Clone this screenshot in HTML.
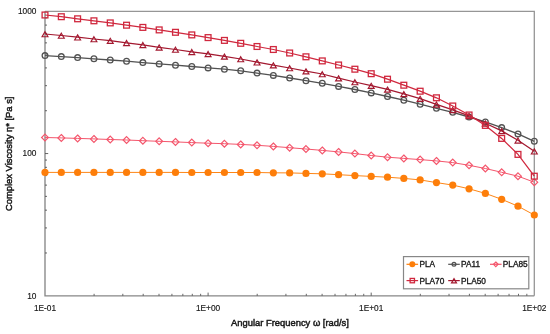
<!DOCTYPE html>
<html><head><meta charset="utf-8"><style>
html,body{margin:0;padding:0;background:#fff;}
body{width:550px;height:334px;overflow:hidden;}
svg{display:block;filter:blur(0.28px);}
text{font-family:"Liberation Sans",Arial,sans-serif;fill:#161616;stroke:#161616;stroke-width:0.32px;}
.tk{font-size:8.3px;stroke-width:0.15px;}
.lg{font-size:8.3px;}
.tt{font-size:9.4px;stroke-width:0.46px;}
</style></head><body>
<svg width="550" height="334" viewBox="0 0 550 334">
<rect width="550" height="334" fill="#fff"/>
<path d="M45.00 11.30H534.30V295.80" fill="none" stroke="#969696" stroke-width="1.3"/>
<path d="M45.00 11.30V295.80H534.30" fill="none" stroke="#878787" stroke-width="1.35"/>
<path d="M45.00 252.98h2.00 M45.00 227.93h2.00 M45.00 210.16h2.00 M45.00 196.37h2.00 M45.00 185.11h2.00 M45.00 175.58h2.00 M45.00 167.34h2.00 M45.00 160.06h2.00 M45.00 153.55h3.20 M45.00 110.73h2.00 M45.00 85.68h2.00 M45.00 67.91h2.00 M45.00 54.12h2.00 M45.00 42.86h2.00 M45.00 33.33h2.00 M45.00 25.09h2.00 M45.00 17.81h2.00 M94.10 295.80v-2.00 M122.82 295.80v-2.00 M143.20 295.80v-2.00 M159.00 295.80v-2.00 M171.92 295.80v-2.00 M182.84 295.80v-2.00 M192.29 295.80v-2.00 M200.64 295.80v-2.00 M208.10 295.80v-3.20 M257.20 295.80v-2.00 M285.92 295.80v-2.00 M306.30 295.80v-2.00 M322.10 295.80v-2.00 M335.02 295.80v-2.00 M345.94 295.80v-2.00 M355.39 295.80v-2.00 M363.74 295.80v-2.00 M371.20 295.80v-3.20 M420.30 295.80v-2.00 M449.02 295.80v-2.00 M469.40 295.80v-2.00 M485.20 295.80v-2.00 M498.12 295.80v-2.00 M509.04 295.80v-2.00 M518.49 295.80v-2.00 M526.84 295.80v-2.00" stroke="#555" stroke-width="0.9" fill="none"/>
<polyline points="45.00,55.60 61.31,56.60 77.62,57.60 93.93,58.80 110.24,60.00 126.55,61.20 142.86,62.60 159.17,63.90 175.48,65.20 191.79,66.50 208.10,67.90 224.41,69.20 240.72,70.80 257.03,73.10 273.34,75.40 289.65,78.00 305.96,80.70 322.27,83.30 338.58,86.40 354.89,89.50 371.20,92.90 387.51,96.50 403.82,100.20 420.13,104.20 436.44,108.30 452.75,112.30 469.06,117.00 485.37,121.90 501.68,127.60 517.99,133.90 534.30,141.30" fill="none" stroke="#525252" stroke-width="1.35"/>
<circle cx="45.00" cy="55.60" r="2.85" fill="none" stroke="#525252" stroke-width="1.3"/>
<circle cx="61.31" cy="56.60" r="2.85" fill="none" stroke="#525252" stroke-width="1.3"/>
<circle cx="77.62" cy="57.60" r="2.85" fill="none" stroke="#525252" stroke-width="1.3"/>
<circle cx="93.93" cy="58.80" r="2.85" fill="none" stroke="#525252" stroke-width="1.3"/>
<circle cx="110.24" cy="60.00" r="2.85" fill="none" stroke="#525252" stroke-width="1.3"/>
<circle cx="126.55" cy="61.20" r="2.85" fill="none" stroke="#525252" stroke-width="1.3"/>
<circle cx="142.86" cy="62.60" r="2.85" fill="none" stroke="#525252" stroke-width="1.3"/>
<circle cx="159.17" cy="63.90" r="2.85" fill="none" stroke="#525252" stroke-width="1.3"/>
<circle cx="175.48" cy="65.20" r="2.85" fill="none" stroke="#525252" stroke-width="1.3"/>
<circle cx="191.79" cy="66.50" r="2.85" fill="none" stroke="#525252" stroke-width="1.3"/>
<circle cx="208.10" cy="67.90" r="2.85" fill="none" stroke="#525252" stroke-width="1.3"/>
<circle cx="224.41" cy="69.20" r="2.85" fill="none" stroke="#525252" stroke-width="1.3"/>
<circle cx="240.72" cy="70.80" r="2.85" fill="none" stroke="#525252" stroke-width="1.3"/>
<circle cx="257.03" cy="73.10" r="2.85" fill="none" stroke="#525252" stroke-width="1.3"/>
<circle cx="273.34" cy="75.40" r="2.85" fill="none" stroke="#525252" stroke-width="1.3"/>
<circle cx="289.65" cy="78.00" r="2.85" fill="none" stroke="#525252" stroke-width="1.3"/>
<circle cx="305.96" cy="80.70" r="2.85" fill="none" stroke="#525252" stroke-width="1.3"/>
<circle cx="322.27" cy="83.30" r="2.85" fill="none" stroke="#525252" stroke-width="1.3"/>
<circle cx="338.58" cy="86.40" r="2.85" fill="none" stroke="#525252" stroke-width="1.3"/>
<circle cx="354.89" cy="89.50" r="2.85" fill="none" stroke="#525252" stroke-width="1.3"/>
<circle cx="371.20" cy="92.90" r="2.85" fill="none" stroke="#525252" stroke-width="1.3"/>
<circle cx="387.51" cy="96.50" r="2.85" fill="none" stroke="#525252" stroke-width="1.3"/>
<circle cx="403.82" cy="100.20" r="2.85" fill="none" stroke="#525252" stroke-width="1.3"/>
<circle cx="420.13" cy="104.20" r="2.85" fill="none" stroke="#525252" stroke-width="1.3"/>
<circle cx="436.44" cy="108.30" r="2.85" fill="none" stroke="#525252" stroke-width="1.3"/>
<circle cx="452.75" cy="112.30" r="2.85" fill="none" stroke="#525252" stroke-width="1.3"/>
<circle cx="469.06" cy="117.00" r="2.85" fill="none" stroke="#525252" stroke-width="1.3"/>
<circle cx="485.37" cy="121.90" r="2.85" fill="none" stroke="#525252" stroke-width="1.3"/>
<circle cx="501.68" cy="127.60" r="2.85" fill="none" stroke="#525252" stroke-width="1.3"/>
<circle cx="517.99" cy="133.90" r="2.85" fill="none" stroke="#525252" stroke-width="1.3"/>
<circle cx="534.30" cy="141.30" r="2.85" fill="none" stroke="#525252" stroke-width="1.3"/>
<polyline points="45.00,137.50 61.31,137.90 77.62,138.40 93.93,138.90 110.24,139.50 126.55,140.00 142.86,140.70 159.17,141.30 175.48,141.90 191.79,142.60 208.10,143.20 224.41,143.70 240.72,144.40 257.03,145.30 273.34,146.40 289.65,147.70 305.96,149.00 322.27,150.40 338.58,151.90 354.89,153.60 371.20,155.50 387.51,157.20 403.82,158.40 420.13,159.60 436.44,160.90 452.75,162.60 469.06,165.30 485.37,168.50 501.68,172.30 517.99,176.20 534.30,182.20" fill="none" stroke="#f4566c" stroke-width="1.00"/>
<polygon points="45.00,134.10 48.40,137.50 45.00,140.90 41.60,137.50" fill="none" stroke="#f4566c" stroke-width="1.2"/>
<polygon points="61.31,134.50 64.71,137.90 61.31,141.30 57.91,137.90" fill="none" stroke="#f4566c" stroke-width="1.2"/>
<polygon points="77.62,135.00 81.02,138.40 77.62,141.80 74.22,138.40" fill="none" stroke="#f4566c" stroke-width="1.2"/>
<polygon points="93.93,135.50 97.33,138.90 93.93,142.30 90.53,138.90" fill="none" stroke="#f4566c" stroke-width="1.2"/>
<polygon points="110.24,136.10 113.64,139.50 110.24,142.90 106.84,139.50" fill="none" stroke="#f4566c" stroke-width="1.2"/>
<polygon points="126.55,136.60 129.95,140.00 126.55,143.40 123.15,140.00" fill="none" stroke="#f4566c" stroke-width="1.2"/>
<polygon points="142.86,137.30 146.26,140.70 142.86,144.10 139.46,140.70" fill="none" stroke="#f4566c" stroke-width="1.2"/>
<polygon points="159.17,137.90 162.57,141.30 159.17,144.70 155.77,141.30" fill="none" stroke="#f4566c" stroke-width="1.2"/>
<polygon points="175.48,138.50 178.88,141.90 175.48,145.30 172.08,141.90" fill="none" stroke="#f4566c" stroke-width="1.2"/>
<polygon points="191.79,139.20 195.19,142.60 191.79,146.00 188.39,142.60" fill="none" stroke="#f4566c" stroke-width="1.2"/>
<polygon points="208.10,139.80 211.50,143.20 208.10,146.60 204.70,143.20" fill="none" stroke="#f4566c" stroke-width="1.2"/>
<polygon points="224.41,140.30 227.81,143.70 224.41,147.10 221.01,143.70" fill="none" stroke="#f4566c" stroke-width="1.2"/>
<polygon points="240.72,141.00 244.12,144.40 240.72,147.80 237.32,144.40" fill="none" stroke="#f4566c" stroke-width="1.2"/>
<polygon points="257.03,141.90 260.43,145.30 257.03,148.70 253.63,145.30" fill="none" stroke="#f4566c" stroke-width="1.2"/>
<polygon points="273.34,143.00 276.74,146.40 273.34,149.80 269.94,146.40" fill="none" stroke="#f4566c" stroke-width="1.2"/>
<polygon points="289.65,144.30 293.05,147.70 289.65,151.10 286.25,147.70" fill="none" stroke="#f4566c" stroke-width="1.2"/>
<polygon points="305.96,145.60 309.36,149.00 305.96,152.40 302.56,149.00" fill="none" stroke="#f4566c" stroke-width="1.2"/>
<polygon points="322.27,147.00 325.67,150.40 322.27,153.80 318.87,150.40" fill="none" stroke="#f4566c" stroke-width="1.2"/>
<polygon points="338.58,148.50 341.98,151.90 338.58,155.30 335.18,151.90" fill="none" stroke="#f4566c" stroke-width="1.2"/>
<polygon points="354.89,150.20 358.29,153.60 354.89,157.00 351.49,153.60" fill="none" stroke="#f4566c" stroke-width="1.2"/>
<polygon points="371.20,152.10 374.60,155.50 371.20,158.90 367.80,155.50" fill="none" stroke="#f4566c" stroke-width="1.2"/>
<polygon points="387.51,153.80 390.91,157.20 387.51,160.60 384.11,157.20" fill="none" stroke="#f4566c" stroke-width="1.2"/>
<polygon points="403.82,155.00 407.22,158.40 403.82,161.80 400.42,158.40" fill="none" stroke="#f4566c" stroke-width="1.2"/>
<polygon points="420.13,156.20 423.53,159.60 420.13,163.00 416.73,159.60" fill="none" stroke="#f4566c" stroke-width="1.2"/>
<polygon points="436.44,157.50 439.84,160.90 436.44,164.30 433.04,160.90" fill="none" stroke="#f4566c" stroke-width="1.2"/>
<polygon points="452.75,159.20 456.15,162.60 452.75,166.00 449.35,162.60" fill="none" stroke="#f4566c" stroke-width="1.2"/>
<polygon points="469.06,161.90 472.46,165.30 469.06,168.70 465.66,165.30" fill="none" stroke="#f4566c" stroke-width="1.2"/>
<polygon points="485.37,165.10 488.77,168.50 485.37,171.90 481.97,168.50" fill="none" stroke="#f4566c" stroke-width="1.2"/>
<polygon points="501.68,168.90 505.08,172.30 501.68,175.70 498.28,172.30" fill="none" stroke="#f4566c" stroke-width="1.2"/>
<polygon points="517.99,172.80 521.39,176.20 517.99,179.60 514.59,176.20" fill="none" stroke="#f4566c" stroke-width="1.2"/>
<polygon points="534.30,178.80 537.70,182.20 534.30,185.60 530.90,182.20" fill="none" stroke="#f4566c" stroke-width="1.2"/>
<polyline points="45.00,172.40 61.31,172.40 77.62,172.40 93.93,172.40 110.24,172.40 126.55,172.40 142.86,172.40 159.17,172.40 175.48,172.40 191.79,172.50 208.10,172.50 224.41,172.50 240.72,172.50 257.03,172.50 273.34,172.80 289.65,172.90 305.96,173.40 322.27,173.80 338.58,174.70 354.89,175.60 371.20,176.40 387.51,177.20 403.82,178.40 420.13,179.90 436.44,182.60 452.75,185.10 469.06,188.80 485.37,193.40 501.68,199.30 517.99,206.20 534.30,215.00" fill="none" stroke="#fd7e0a" stroke-width="0.95"/>
<circle cx="45.00" cy="172.40" r="3.60" fill="#fd7e0a"/>
<circle cx="61.31" cy="172.40" r="3.60" fill="#fd7e0a"/>
<circle cx="77.62" cy="172.40" r="3.60" fill="#fd7e0a"/>
<circle cx="93.93" cy="172.40" r="3.60" fill="#fd7e0a"/>
<circle cx="110.24" cy="172.40" r="3.60" fill="#fd7e0a"/>
<circle cx="126.55" cy="172.40" r="3.60" fill="#fd7e0a"/>
<circle cx="142.86" cy="172.40" r="3.60" fill="#fd7e0a"/>
<circle cx="159.17" cy="172.40" r="3.60" fill="#fd7e0a"/>
<circle cx="175.48" cy="172.40" r="3.60" fill="#fd7e0a"/>
<circle cx="191.79" cy="172.50" r="3.60" fill="#fd7e0a"/>
<circle cx="208.10" cy="172.50" r="3.60" fill="#fd7e0a"/>
<circle cx="224.41" cy="172.50" r="3.60" fill="#fd7e0a"/>
<circle cx="240.72" cy="172.50" r="3.60" fill="#fd7e0a"/>
<circle cx="257.03" cy="172.50" r="3.60" fill="#fd7e0a"/>
<circle cx="273.34" cy="172.80" r="3.60" fill="#fd7e0a"/>
<circle cx="289.65" cy="172.90" r="3.60" fill="#fd7e0a"/>
<circle cx="305.96" cy="173.40" r="3.60" fill="#fd7e0a"/>
<circle cx="322.27" cy="173.80" r="3.60" fill="#fd7e0a"/>
<circle cx="338.58" cy="174.70" r="3.60" fill="#fd7e0a"/>
<circle cx="354.89" cy="175.60" r="3.60" fill="#fd7e0a"/>
<circle cx="371.20" cy="176.40" r="3.60" fill="#fd7e0a"/>
<circle cx="387.51" cy="177.20" r="3.60" fill="#fd7e0a"/>
<circle cx="403.82" cy="178.40" r="3.60" fill="#fd7e0a"/>
<circle cx="420.13" cy="179.90" r="3.60" fill="#fd7e0a"/>
<circle cx="436.44" cy="182.60" r="3.60" fill="#fd7e0a"/>
<circle cx="452.75" cy="185.10" r="3.60" fill="#fd7e0a"/>
<circle cx="469.06" cy="188.80" r="3.60" fill="#fd7e0a"/>
<circle cx="485.37" cy="193.40" r="3.60" fill="#fd7e0a"/>
<circle cx="501.68" cy="199.30" r="3.60" fill="#fd7e0a"/>
<circle cx="517.99" cy="206.20" r="3.60" fill="#fd7e0a"/>
<circle cx="534.30" cy="215.00" r="3.60" fill="#fd7e0a"/>
<polyline points="45.00,34.00 61.31,35.50 77.62,37.20 93.93,39.00 110.24,40.60 126.55,42.80 142.86,44.80 159.17,47.30 175.48,49.50 191.79,51.80 208.10,53.80 224.41,56.40 240.72,59.00 257.03,62.20 273.34,65.10 289.65,68.00 305.96,71.10 322.27,74.00 338.58,78.10 354.89,82.00 371.20,85.60 387.51,89.40 403.82,93.90 420.13,98.60 436.44,104.30 452.75,109.80 469.06,115.80 485.37,123.30 501.68,130.90 517.99,140.30 534.30,151.20" fill="none" stroke="#a3182f" stroke-width="1.25"/>
<polygon points="45.00,31.70 47.95,36.75 42.05,36.75" fill="none" stroke="#a3182f" stroke-width="1.15" stroke-linejoin="miter"/>
<polygon points="61.31,33.20 64.26,38.25 58.36,38.25" fill="none" stroke="#a3182f" stroke-width="1.15" stroke-linejoin="miter"/>
<polygon points="77.62,34.90 80.57,39.95 74.67,39.95" fill="none" stroke="#a3182f" stroke-width="1.15" stroke-linejoin="miter"/>
<polygon points="93.93,36.70 96.88,41.75 90.98,41.75" fill="none" stroke="#a3182f" stroke-width="1.15" stroke-linejoin="miter"/>
<polygon points="110.24,38.30 113.19,43.35 107.29,43.35" fill="none" stroke="#a3182f" stroke-width="1.15" stroke-linejoin="miter"/>
<polygon points="126.55,40.50 129.50,45.55 123.60,45.55" fill="none" stroke="#a3182f" stroke-width="1.15" stroke-linejoin="miter"/>
<polygon points="142.86,42.50 145.81,47.55 139.91,47.55" fill="none" stroke="#a3182f" stroke-width="1.15" stroke-linejoin="miter"/>
<polygon points="159.17,45.00 162.12,50.05 156.22,50.05" fill="none" stroke="#a3182f" stroke-width="1.15" stroke-linejoin="miter"/>
<polygon points="175.48,47.20 178.43,52.25 172.53,52.25" fill="none" stroke="#a3182f" stroke-width="1.15" stroke-linejoin="miter"/>
<polygon points="191.79,49.50 194.74,54.55 188.84,54.55" fill="none" stroke="#a3182f" stroke-width="1.15" stroke-linejoin="miter"/>
<polygon points="208.10,51.50 211.05,56.55 205.15,56.55" fill="none" stroke="#a3182f" stroke-width="1.15" stroke-linejoin="miter"/>
<polygon points="224.41,54.10 227.36,59.15 221.46,59.15" fill="none" stroke="#a3182f" stroke-width="1.15" stroke-linejoin="miter"/>
<polygon points="240.72,56.70 243.67,61.75 237.77,61.75" fill="none" stroke="#a3182f" stroke-width="1.15" stroke-linejoin="miter"/>
<polygon points="257.03,59.90 259.98,64.95 254.08,64.95" fill="none" stroke="#a3182f" stroke-width="1.15" stroke-linejoin="miter"/>
<polygon points="273.34,62.80 276.29,67.85 270.39,67.85" fill="none" stroke="#a3182f" stroke-width="1.15" stroke-linejoin="miter"/>
<polygon points="289.65,65.70 292.60,70.75 286.70,70.75" fill="none" stroke="#a3182f" stroke-width="1.15" stroke-linejoin="miter"/>
<polygon points="305.96,68.80 308.91,73.85 303.01,73.85" fill="none" stroke="#a3182f" stroke-width="1.15" stroke-linejoin="miter"/>
<polygon points="322.27,71.70 325.22,76.75 319.32,76.75" fill="none" stroke="#a3182f" stroke-width="1.15" stroke-linejoin="miter"/>
<polygon points="338.58,75.80 341.53,80.85 335.63,80.85" fill="none" stroke="#a3182f" stroke-width="1.15" stroke-linejoin="miter"/>
<polygon points="354.89,79.70 357.84,84.75 351.94,84.75" fill="none" stroke="#a3182f" stroke-width="1.15" stroke-linejoin="miter"/>
<polygon points="371.20,83.30 374.15,88.35 368.25,88.35" fill="none" stroke="#a3182f" stroke-width="1.15" stroke-linejoin="miter"/>
<polygon points="387.51,87.10 390.46,92.15 384.56,92.15" fill="none" stroke="#a3182f" stroke-width="1.15" stroke-linejoin="miter"/>
<polygon points="403.82,91.60 406.77,96.65 400.87,96.65" fill="none" stroke="#a3182f" stroke-width="1.15" stroke-linejoin="miter"/>
<polygon points="420.13,96.30 423.08,101.35 417.18,101.35" fill="none" stroke="#a3182f" stroke-width="1.15" stroke-linejoin="miter"/>
<polygon points="436.44,102.00 439.39,107.05 433.49,107.05" fill="none" stroke="#a3182f" stroke-width="1.15" stroke-linejoin="miter"/>
<polygon points="452.75,107.50 455.70,112.55 449.80,112.55" fill="none" stroke="#a3182f" stroke-width="1.15" stroke-linejoin="miter"/>
<polygon points="469.06,113.50 472.01,118.55 466.11,118.55" fill="none" stroke="#a3182f" stroke-width="1.15" stroke-linejoin="miter"/>
<polygon points="485.37,121.00 488.32,126.05 482.42,126.05" fill="none" stroke="#a3182f" stroke-width="1.15" stroke-linejoin="miter"/>
<polygon points="501.68,128.60 504.63,133.65 498.73,133.65" fill="none" stroke="#a3182f" stroke-width="1.15" stroke-linejoin="miter"/>
<polygon points="517.99,138.00 520.94,143.05 515.04,143.05" fill="none" stroke="#a3182f" stroke-width="1.15" stroke-linejoin="miter"/>
<polygon points="534.30,148.90 537.25,153.95 531.35,153.95" fill="none" stroke="#a3182f" stroke-width="1.15" stroke-linejoin="miter"/>
<polyline points="45.00,15.00 61.31,16.70 77.62,18.80 93.93,20.80 110.24,22.90 126.55,25.20 142.86,27.40 159.17,29.90 175.48,32.30 191.79,34.90 208.10,37.60 224.41,40.40 240.72,43.30 257.03,46.50 273.34,49.50 289.65,53.00 305.96,56.80 322.27,60.90 338.58,65.00 354.89,69.20 371.20,73.70 387.51,79.20 403.82,85.20 420.13,91.20 436.44,97.80 452.75,106.00 469.06,115.00 485.37,125.40 501.68,138.40 517.99,154.40 534.30,176.20" fill="none" stroke="#d0283e" stroke-width="1.25"/>
<rect x="42.10" y="12.10" width="5.80" height="5.80" fill="none" stroke="#d0283e" stroke-width="1.3"/>
<rect x="58.41" y="13.80" width="5.80" height="5.80" fill="none" stroke="#d0283e" stroke-width="1.3"/>
<rect x="74.72" y="15.90" width="5.80" height="5.80" fill="none" stroke="#d0283e" stroke-width="1.3"/>
<rect x="91.03" y="17.90" width="5.80" height="5.80" fill="none" stroke="#d0283e" stroke-width="1.3"/>
<rect x="107.34" y="20.00" width="5.80" height="5.80" fill="none" stroke="#d0283e" stroke-width="1.3"/>
<rect x="123.65" y="22.30" width="5.80" height="5.80" fill="none" stroke="#d0283e" stroke-width="1.3"/>
<rect x="139.96" y="24.50" width="5.80" height="5.80" fill="none" stroke="#d0283e" stroke-width="1.3"/>
<rect x="156.27" y="27.00" width="5.80" height="5.80" fill="none" stroke="#d0283e" stroke-width="1.3"/>
<rect x="172.58" y="29.40" width="5.80" height="5.80" fill="none" stroke="#d0283e" stroke-width="1.3"/>
<rect x="188.89" y="32.00" width="5.80" height="5.80" fill="none" stroke="#d0283e" stroke-width="1.3"/>
<rect x="205.20" y="34.70" width="5.80" height="5.80" fill="none" stroke="#d0283e" stroke-width="1.3"/>
<rect x="221.51" y="37.50" width="5.80" height="5.80" fill="none" stroke="#d0283e" stroke-width="1.3"/>
<rect x="237.82" y="40.40" width="5.80" height="5.80" fill="none" stroke="#d0283e" stroke-width="1.3"/>
<rect x="254.13" y="43.60" width="5.80" height="5.80" fill="none" stroke="#d0283e" stroke-width="1.3"/>
<rect x="270.44" y="46.60" width="5.80" height="5.80" fill="none" stroke="#d0283e" stroke-width="1.3"/>
<rect x="286.75" y="50.10" width="5.80" height="5.80" fill="none" stroke="#d0283e" stroke-width="1.3"/>
<rect x="303.06" y="53.90" width="5.80" height="5.80" fill="none" stroke="#d0283e" stroke-width="1.3"/>
<rect x="319.37" y="58.00" width="5.80" height="5.80" fill="none" stroke="#d0283e" stroke-width="1.3"/>
<rect x="335.68" y="62.10" width="5.80" height="5.80" fill="none" stroke="#d0283e" stroke-width="1.3"/>
<rect x="351.99" y="66.30" width="5.80" height="5.80" fill="none" stroke="#d0283e" stroke-width="1.3"/>
<rect x="368.30" y="70.80" width="5.80" height="5.80" fill="none" stroke="#d0283e" stroke-width="1.3"/>
<rect x="384.61" y="76.30" width="5.80" height="5.80" fill="none" stroke="#d0283e" stroke-width="1.3"/>
<rect x="400.92" y="82.30" width="5.80" height="5.80" fill="none" stroke="#d0283e" stroke-width="1.3"/>
<rect x="417.23" y="88.30" width="5.80" height="5.80" fill="none" stroke="#d0283e" stroke-width="1.3"/>
<rect x="433.54" y="94.90" width="5.80" height="5.80" fill="none" stroke="#d0283e" stroke-width="1.3"/>
<rect x="449.85" y="103.10" width="5.80" height="5.80" fill="none" stroke="#d0283e" stroke-width="1.3"/>
<rect x="466.16" y="112.10" width="5.80" height="5.80" fill="none" stroke="#d0283e" stroke-width="1.3"/>
<rect x="482.47" y="122.50" width="5.80" height="5.80" fill="none" stroke="#d0283e" stroke-width="1.3"/>
<rect x="498.78" y="135.50" width="5.80" height="5.80" fill="none" stroke="#d0283e" stroke-width="1.3"/>
<rect x="515.09" y="151.50" width="5.80" height="5.80" fill="none" stroke="#d0283e" stroke-width="1.3"/>
<rect x="531.40" y="173.30" width="5.80" height="5.80" fill="none" stroke="#d0283e" stroke-width="1.3"/>
<rect x="403.5" y="256.6" width="125.3" height="32.2" fill="#fff" stroke="#878787" stroke-width="1.2"/>
<path d="M406.50 264.30h11.6" stroke="#fd7e0a" stroke-width="1.2"/>
<circle cx="412.30" cy="264.30" r="2.99" fill="#fd7e0a"/>
<text x="419.40" y="267.20" class="lg">PLA</text>
<path d="M448.20 264.30h11.6" stroke="#525252" stroke-width="1.2"/>
<circle cx="454.00" cy="264.30" r="1.88" fill="none" stroke="#525252" stroke-width="1.3"/>
<text x="461.00" y="267.20" class="lg">PA11</text>
<path d="M490.00 264.30h11.6" stroke="#f4566c" stroke-width="1.2"/>
<polygon points="495.80,261.99 498.11,264.30 495.80,266.61 493.49,264.30" fill="none" stroke="#f4566c" stroke-width="1.2"/>
<text x="502.80" y="267.20" class="lg">PLA85</text>
<path d="M406.50 280.60h11.6" stroke="#d0283e" stroke-width="1.2"/>
<rect x="410.12" y="278.43" width="4.35" height="4.35" fill="none" stroke="#d0283e" stroke-width="1.3"/>
<text x="419.40" y="283.50" class="lg">PLA70</text>
<path d="M448.20 280.60h11.6" stroke="#a3182f" stroke-width="1.2"/>
<polygon points="454.00,278.65 456.51,282.94 451.49,282.94" fill="none" stroke="#a3182f" stroke-width="1.15" stroke-linejoin="miter"/>
<text x="461.00" y="283.50" class="lg">PLA50</text>
<text x="36.4" y="298.70" class="tk" text-anchor="end">10</text>
<text x="36.4" y="156.45" class="tk" text-anchor="end">100</text>
<text x="36.4" y="14.20" class="tk" text-anchor="end">1000</text>
<text x="45.00" y="310.7" class="tk" text-anchor="middle">1E-01</text>
<text x="208.10" y="310.7" class="tk" text-anchor="middle">1E+00</text>
<text x="371.20" y="310.7" class="tk" text-anchor="middle">1E+01</text>
<text x="534.30" y="310.7" class="tk" text-anchor="middle">1E+02</text>
<text x="290" y="326.4" class="tt" text-anchor="middle">Angular Frequency ω [rad/s]</text>
<text transform="translate(11.7 153.8) rotate(-90)" class="tt" text-anchor="middle">Complex Viscosity η* [Pa s]</text>
</svg>
</body></html>
